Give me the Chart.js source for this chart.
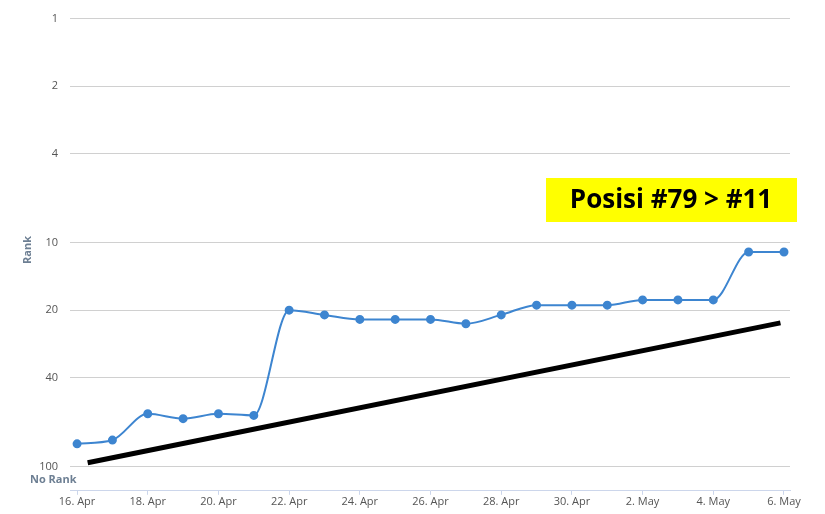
<!DOCTYPE html>
<html><head><meta charset="utf-8">
<script src="https://cdn.jsdelivr.net/npm/chart.js@4"></script>
<style>html,body{margin:0;padding:0;background:#fff}#w{width:825px;height:514px}</style>
</head><body><div id="w"><canvas id="c" width="825" height="514"></canvas></div>
<script>
const dates = ["16. Apr","17. Apr","18. Apr","19. Apr","20. Apr","21. Apr","22. Apr","23. Apr","24. Apr","25. Apr","26. Apr","27. Apr","28. Apr","29. Apr","30. Apr","1. May","2. May","3. May","4. May","5. May","6. May"];
const ranks = [79,76,58,61,58,59,20,21,22,22,22,23,21,19,19,19,18,18,18,11,11];
const trendX = [0.3,19.9];
const trendY = [96,22.8];
const yTicks = [1,2,4,10,20,40,100];
const xTicks = [0,2,4,6,8,10,12,14,16,18,20];
const annot = "Posisi #79 > #11";

const extras = {id:'extras', afterDraw(ch){
  const c=ch.ctx; c.save();
  c.font='bold 11px "Open Sans", Arial'; c.fillStyle='#6d7f93';
  c.textBaseline='middle'; c.textAlign='left';
  c.fillText('No Rank',30,480);
  c.translate(28,250); c.rotate(-Math.PI/2); c.textAlign='center';
  c.fillText('Rank',0,0);
  c.restore(); c.save();
  c.fillStyle='#ffff00'; c.fillRect(546,178,251,44);
  c.fillStyle='#000'; c.font='bold 26px "Open Sans", Arial'; c.textAlign='center'; c.textBaseline='middle';
  c.fillText(annot,671,201);
  c.restore();
}};

new Chart(document.getElementById('c'),{
  type:'line',
  data:{datasets:[
    {data:ranks.map((v,i)=>({x:i,y:v})),borderColor:'#3d85d0',backgroundColor:'#3d85d0',borderWidth:2,pointRadius:3.5,pointHoverRadius:3.5,cubicInterpolationMode:'monotone',order:1},
    {data:trendX.map((x,i)=>({x,y:trendY[i]})),borderColor:'#000',borderWidth:5,pointRadius:0,order:2}
  ]},
  plugins:[extras],
  options:{responsive:false,animation:false,
    layout:{padding:{left:0,right:35,top:12,bottom:6}},
    plugins:{legend:{display:false},tooltip:{enabled:false}},
    scales:{
      x:{type:'linear',min:-0.2,max:20.17,
        afterBuildTicks(a){a.ticks=xTicks.map(v=>({value:v}));},
        ticks:{callback:v=>dates[v]||'',color:'#555',font:{size:11,family:'"Open Sans", Arial'},maxRotation:0,autoSkip:false,padding:0},
        grid:{display:true,drawOnChartArea:false,tickLength:4,color:'#ccd6eb'},
        border:{color:'#ccd6eb'}},
      y:{type:'logarithmic',reverse:true,min:1,max:128,
        afterBuildTicks(a){a.ticks=yTicks.map(v=>({value:v}));},
        afterFit(a){a.width=70;},
        ticks:{callback:v=>String(v),color:'#555',font:{size:11,family:'"Open Sans", Arial'},padding:12},
        grid:{color:'#d0d0d0',drawTicks:false},
        border:{display:false}}
    }}
});
</script></body></html>
